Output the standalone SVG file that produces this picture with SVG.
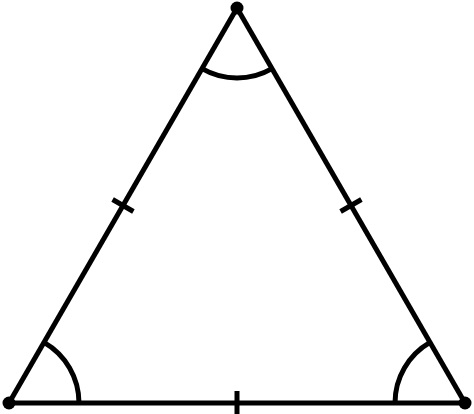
<svg xmlns="http://www.w3.org/2000/svg" width="474" height="414" viewBox="0 0 474 414">
<style>
.l{stroke:#000;stroke-width:5;fill:none;stroke-linecap:butt}
.d{fill:#000}
</style>
<rect width="474" height="414" fill="#fff"/>
<g id="edges">
<line class="l" x1="9" y1="403" x2="237" y2="8"/>
<line class="l" x1="237" y1="8" x2="465" y2="403"/>
<line class="l" x1="9" y1="403" x2="465" y2="403"/>
</g>
<g id="angles">
<path class="l" d="M202,68.6 A70,70 0 0 0 272,68.6"/>
<path class="l" d="M79,403 A70,70 0 0 0 44,342.4"/>
<path class="l" d="M395,403 A70,70 0 0 1 430,342.4"/>
</g>
<g id="ticks">
<line class="l" x1="112.6" y1="199.5" x2="133.4" y2="211.5"/>
<line class="l" x1="340.6" y1="211.5" x2="361.4" y2="199.5"/>
<line class="l" x1="237" y1="391" x2="237" y2="414"/>
</g>
<g id="vertices">
<circle class="d" cx="237" cy="8" r="6.5"/>
<circle class="d" cx="9" cy="403" r="6.5"/>
<circle class="d" cx="465" cy="403" r="6.5"/>
</g>
</svg>
